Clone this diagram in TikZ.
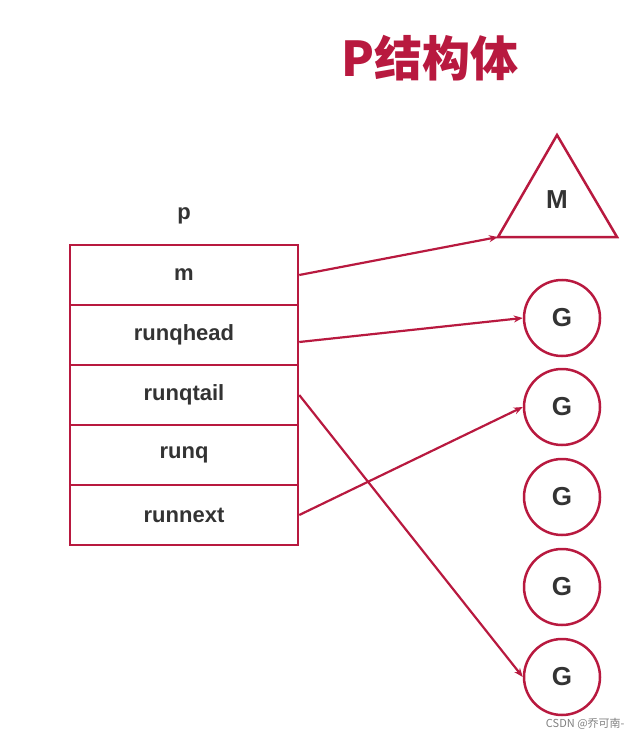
\documentclass[tikz,border=0pt]{standalone}
\usepackage{fontspec}
\setmainfont{Liberation Sans}
\newfontfamily\cjk{Noto Sans CJK SC}
\usetikzlibrary{arrows.meta}
\definecolor{crim}{HTML}{B8193F}
\definecolor{txt}{HTML}{333333}
\begin{document}
\begin{tikzpicture}[x=1pt,y=-1pt,
  cell/.style={draw=crim,line width=2.5pt,minimum width=228pt,minimum height=60pt,inner sep=0pt,font=\fontsize{22}{24}\selectfont\bfseries,text=txt},
  gnode/.style={draw=crim,line width=2.5pt,circle,minimum size=76pt,inner sep=0pt,font=\fontsize{26}{28}\selectfont\bfseries,text=txt},
  link/.style={crim,line width=2.2pt,-{Stealth[length=9pt,width=7pt]}}]
\useasboundingbox (0,0) rectangle (642,743);
\node[text=crim,font=\cjk\fontsize{48}{52}\selectfont\bfseries] (title) at (430,58) {P结构体};
\node[font=\fontsize{22}{24}\selectfont\bfseries,text=txt] (p) at (184,216) {p};
\node[cell] (m) at (184,275) {m};
\node[cell] (rh) at (184,335) {runqhead};
\node[cell] (rt) at (184,395) {runqtail};
\node[cell] (rq) at (184,455) {runq};
\node[cell] (rn) at (184,515) {runnext};
\draw[crim,line width=2.5pt] (498,237) coordinate (t1) -- (617,237) -- (557,135) -- cycle;
\node[font=\fontsize{26}{28}\selectfont\bfseries,text=txt] (M) at (557,200) {M};
\node[gnode] (g1) at (562,318) {G};
\node[gnode] (g2) at (562,407) {G};
\node[gnode] (g3) at (562,497) {G};
\node[gnode] (g4) at (562,587) {G};
\node[gnode] (g5) at (562,677) {G};
\draw[link] (m.east) -- (t1);
\draw[link] ([yshift=-7pt]rh.east) -- (g1.west);
\draw[link] (rt.east) -- (g5.west);
\draw[link] (rn.east) -- (g2.west);
\node[font=\cjk\fontsize{11}{12}\selectfont,text=gray,anchor=east] (wm) at (628,724) {CSDN @乔可南-};
\end{tikzpicture}
\end{document}
